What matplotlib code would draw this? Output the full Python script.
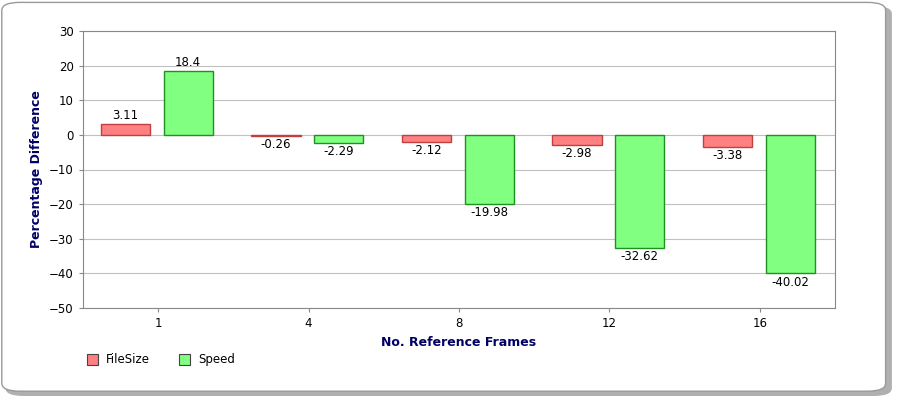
import matplotlib
matplotlib.use("Agg")
import matplotlib.pyplot as plt
from matplotlib.patches import FancyBboxPatch, Rectangle
import numpy as np

categories = ["1", "4", "8", "12", "16"]
filesize = [3.11, -0.26, -2.12, -2.98, -3.38]
speed = [18.4, -2.29, -19.98, -32.62, -40.02]
yticks = list(range(-50, 31, 10))

fig = plt.figure(figsize=(9, 4), dpi=100)
fig.patch.set_facecolor("white")
# shadow and rounded frame
fig.patches.append(FancyBboxPatch((0.006, 0.01), 0.985, 0.975, boxstyle="round,pad=0,rounding_size=0.02",
                                  transform=fig.transFigure, facecolor="#b0b0b0", edgecolor="none", zorder=-3))
fig.patches.append(FancyBboxPatch((0.002, 0.022), 0.982, 0.972, boxstyle="round,pad=0,rounding_size=0.02",
                                  transform=fig.transFigure, facecolor="white", edgecolor="#999999", lw=1, zorder=-2))

ax = fig.add_axes([0.092, 0.23, 0.836, 0.6925])
ax.set_facecolor("none")
x = np.arange(len(categories))
w = 0.326
rb = ax.bar(x - 0.216, filesize, w, color="#ff8080", edgecolor="#c04040", lw=1, zorder=3)
gb = ax.bar(x + 0.2, speed, w, color="#80ff80", edgecolor="#209020", lw=1, zorder=3)
for bars, vals in ((rb, filesize), (gb, speed)):
    for b, v in zip(bars, vals):
        cx = b.get_x() + b.get_width() / 2
        if v >= 0:
            ax.text(cx, v + 0.6, f"{v:g}", ha="center", va="bottom", fontsize=8.5)
        else:
            ax.text(cx, v - 0.6, f"{v:g}", ha="center", va="top", fontsize=8.5)

ax.set_xlim(-0.5, 4.5)
ax.set_ylim(-50, 30)
ax.set_yticks(yticks)
ax.set_xticks(x)
ax.set_xticklabels(categories)
ax.tick_params(labelsize=8.5, length=3, color="#888888")
ax.yaxis.grid(True, color="#c0c0c0", lw=0.8, zorder=0)
for s in ax.spines.values():
    s.set_color("#888888")
ax.set_ylabel("Percentage Difference", fontsize=9, fontweight="bold", color="#000066")
ax.set_xlabel("No. Reference Frames", fontsize=9, fontweight="bold", color="#000066", labelpad=4)

# legend
for xx, col, ec, lab in ((0.103, "#ff8080", "#c04040", "FileSize"), (0.205, "#80ff80", "#209020", "Speed")):
    fig.patches.append(Rectangle((xx - 0.006, 0.088), 0.012, 0.026, transform=fig.transFigure,
                                 facecolor=col, edgecolor="#444444", lw=0.8))
    fig.text(xx + 0.015, 0.101, lab, fontsize=8.5, va="center")

fig.savefig("out.png", dpi=100)
